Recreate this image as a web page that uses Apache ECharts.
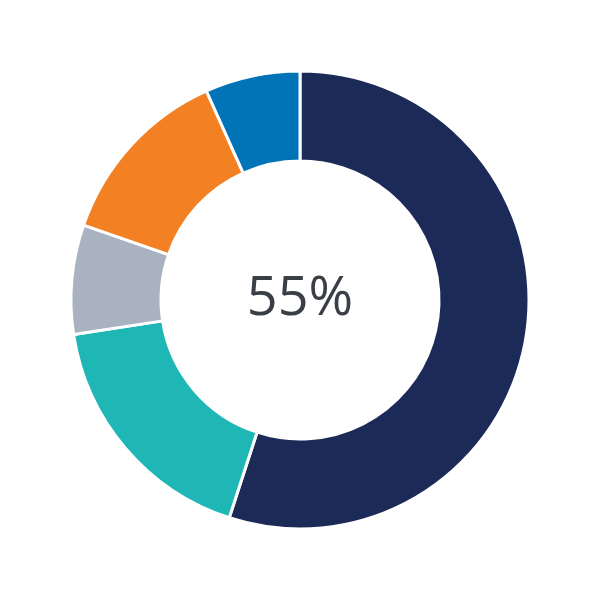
<!DOCTYPE html>
<html><head><meta charset="utf-8">
<script src="https://cdn.jsdelivr.net/npm/echarts@6/dist/echarts.min.js"></script>
<style>html,body{margin:0;padding:0;background:#fff}#c{width:600px;height:600px}</style>
</head><body><div id="c"></div>
<script>
const categories = ['A', 'B', 'C', 'D', 'E'];
const values = [55, 17.6, 7.7, 13, 6.7];
const colors = ['#1c2a57', '#1fb6b6', '#a8b2c1', '#f38022', '#0074b6'];
const centerLabel = '55%';

const chart = echarts.init(document.getElementById('c'));
chart.setOption({
  animation: false,
  title: {
    text: centerLabel, left: 'center', top: 'middle',
    textStyle: { fontFamily: 'Open Sans', fontSize: 54, fontWeight: 'normal', color: '#3a3f47' }
  },
  series: [{
    type: 'pie',
    center: [300, 300],
    radius: [139, 229],
    startAngle: 90,
    clockwise: true,
    label: { show: false },
    labelLine: { show: false },
    itemStyle: { borderColor: '#fff', borderWidth: 3 },
    data: categories.map((c, i) => ({ name: c, value: values[i], itemStyle: { color: colors[i] } }))
  }]
});
</script></body></html>
